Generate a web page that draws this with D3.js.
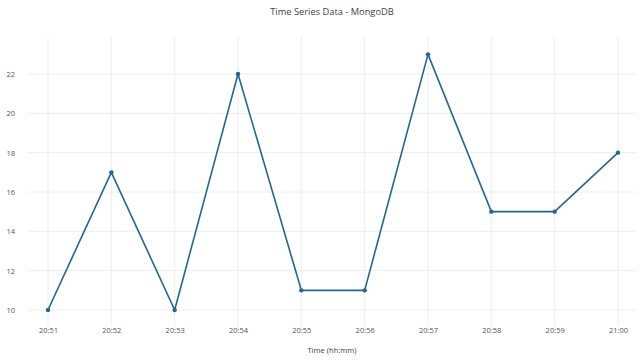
<!DOCTYPE html>
<html><head><meta charset="utf-8">
<script src="https://cdn.jsdelivr.net/npm/d3@7"></script>
<style>body{margin:0;background:#fff;} svg{display:block;font-family:"Open Sans",sans-serif;}</style>
</head><body><svg id="c" width="640" height="360"></svg>
<script>
const times = ["20:51","20:52","20:53","20:54","20:55","20:56","20:57","20:58","20:59","21:00"];
const values = [10,17,10,22,11,11,23,15,15,18];
const yTicks = [10,12,14,16,18,20,22];
const title = "Time Series Data - MongoDB";
const xTitle = "Time (hh:mm)";

(function(){
const parse = d3.timeParse("%H:%M");
const data = times.map((t,i)=>({t:parse(t), v:values[i]}));
const svg = d3.select("#c");
const x = d3.scaleTime().domain([data[0].t, data[data.length-1].t]).range([48,618]);
const y = d3.scaleLinear().domain([10,22]).range([310,74]);
const pTop = 37, pBottom = 326, pLeft = 28, pRight = 636;
const cx = (pLeft + pRight) / 2;

svg.append("g").selectAll("line").data(yTicks).join("line")
  .attr("x1",pLeft).attr("x2",pRight).attr("y1",d=>y(d)).attr("y2",d=>y(d))
  .attr("stroke","#eeeeee").attr("stroke-width",1);
svg.append("g").selectAll("line").data(data).join("line")
  .attr("y1",pTop).attr("y2",pBottom).attr("x1",d=>x(d.t)).attr("x2",d=>x(d.t))
  .attr("stroke","#eeeeee").attr("stroke-width",1);

const xAxis = d3.axisBottom(x).tickValues(data.map(d=>d.t)).tickFormat(d3.timeFormat("%H:%M")).tickSize(0).tickPadding(0);
const gx = svg.append("g").attr("transform",`translate(0,${pBottom+2})`).call(xAxis);
gx.select(".domain").remove();
gx.selectAll("text").attr("fill","#555").attr("font-size",7.5).attr("font-family","Open Sans").attr("dy","0.71em");

const yAxis = d3.axisLeft(y).tickValues(yTicks).tickSize(0).tickPadding(0);
const gy = svg.append("g").attr("transform",`translate(15,0)`).call(yAxis);
gy.select(".domain").remove();
gy.selectAll("text").attr("fill","#555").attr("font-size",7.5).attr("font-family","Open Sans");

const line = d3.line().x(d=>x(d.t)).y(d=>y(d.v));
svg.append("path").datum(data).attr("d",line).attr("fill","none")
  .attr("stroke","#27668f").attr("stroke-width",1.6).attr("stroke-linejoin","round");
svg.append("g").selectAll("circle").data(data).join("circle")
  .attr("cx",d=>x(d.t)).attr("cy",d=>y(d.v)).attr("r",2.2).attr("fill","#27668f");

svg.append("text").attr("x",cx).attr("y",15).attr("text-anchor","middle")
  .attr("font-size",9.3).attr("fill","#444").text(title);
svg.append("text").attr("x",cx).attr("y",353).attr("text-anchor","middle")
  .attr("font-size",7.6).attr("fill","#444").text(xTitle);
})();
</script></body></html>
